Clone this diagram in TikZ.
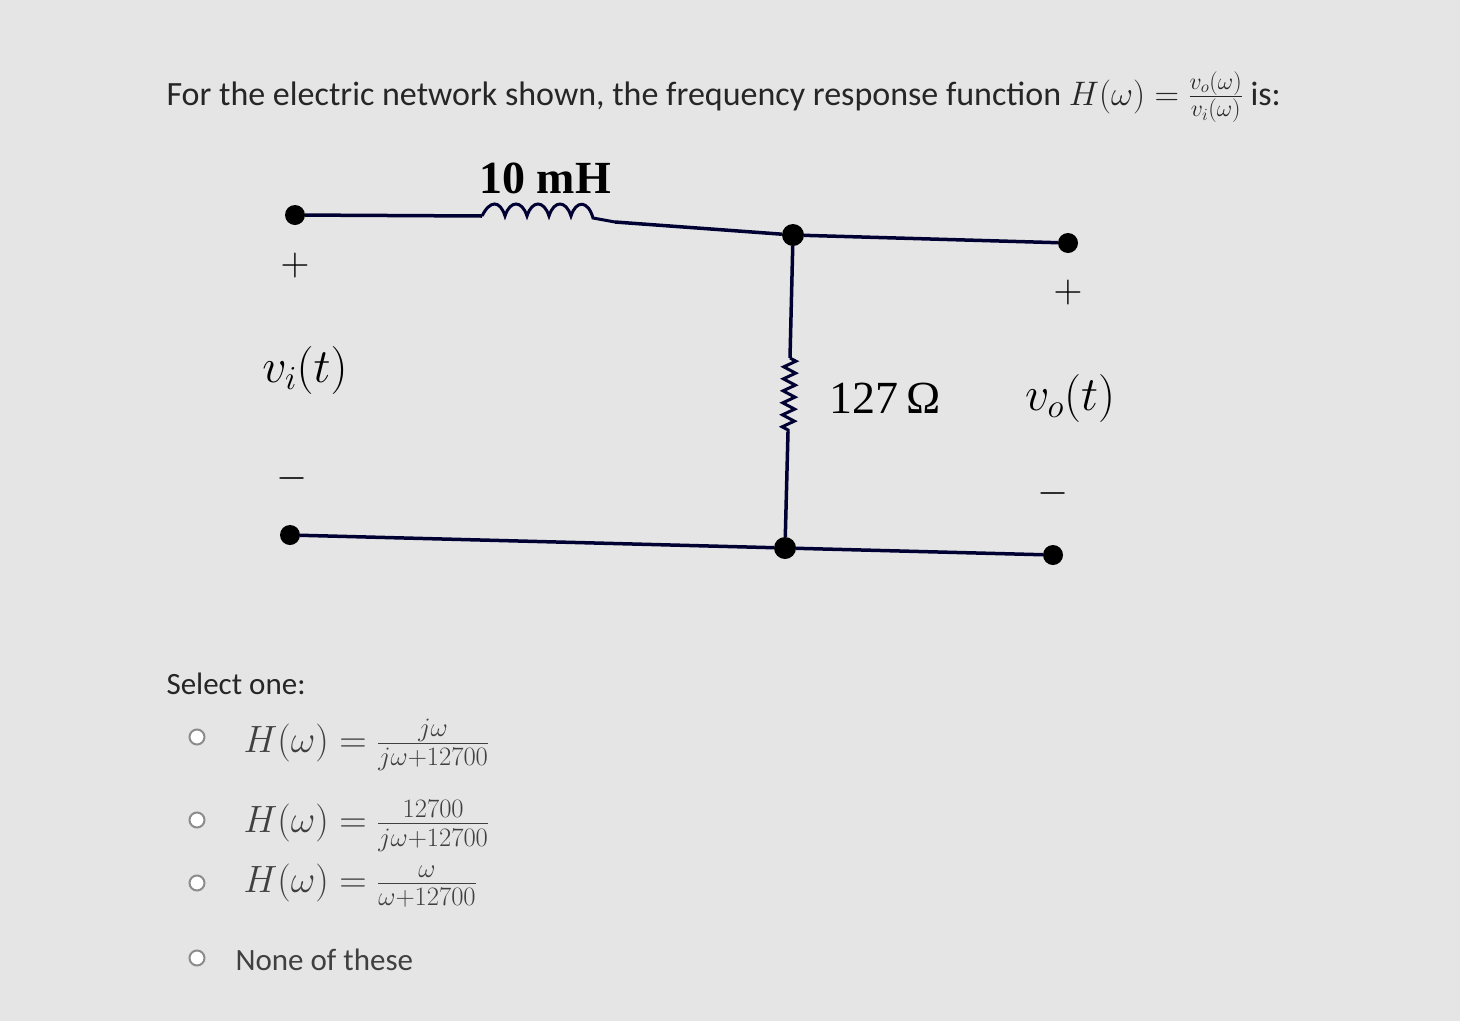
\RequirePackage{fix-cm}
\documentclass[tikz,border=0pt]{standalone}
\usepackage{amsmath}
\usepackage{fontspec}
\setmainfont{Carlito}
\newfontfamily\serifb{Liberation Serif}
\usetikzlibrary{decorations.pathmorphing}
\begin{document}
\begin{tikzpicture}[x=1pt,y=-1pt,
  wire/.style={draw=black!80!blue,line width=3.5pt},
  term/.style={circle,fill=black,inner sep=0pt,minimum size=20pt},
  jn/.style={circle,fill=black,inner sep=0pt,minimum size=22pt},
  lab/.style={font=\fontsize{40}{44}\selectfont},
  txt/.style={font=\fontsize{34}{38}\selectfont,anchor=west,text=black!85},
  opt/.style={circle,draw=black!45,line width=2pt,minimum size=15pt,inner sep=0pt,fill=white},
  ans/.style={anchor=west,text=black!75,font=\fontsize{38}{42}\selectfont}]
\fill[black!10] (0,0) rectangle (1460,1021);
\node[txt] (q) at (163,97) {For the electric network shown, the frequency response function $H(\omega)=\frac{v_o(\omega)}{v_i(\omega)}$ is:};
% circuit
\node[term] (a) at (295,215) {};
\coordinate (l1) at (482,216);
\coordinate (l2) at (615,222);
\node[jn] (n1) at (793,235) {};
\node[term] (b) at (1068,243) {};
\node[term] (c) at (290,535) {};
\node[jn] (n2) at (785,548) {};
\node[term] (d) at (1053,555) {};
\coordinate (r1) at (790,358);
\coordinate (r2) at (788,432);
\draw[wire] (a) -- (l1);
\draw[wire,line width=3pt] (l1) .. controls (490,200) and (500,200) .. (505,216)
 .. controls (510,200) and (522,200) .. (527,216)
 .. controls (532,200) and (544,200) .. (549,216)
 .. controls (554,200) and (566,200) .. (571,216)
 .. controls (576,200) and (588,200) .. (593,218) -- (l2);
\draw[wire] (l2) -- (n1) -- (b);
\draw[wire] (n1) -- (r1);
\draw[wire,line width=3pt,decorate,decoration={zigzag,segment length=12pt,amplitude=6pt}] (r1) -- (r2);
\draw[wire] (r2) -- (n2);
\draw[wire] (c) -- (n2) -- (d);
\node[font=\fontsize{46}{50}\selectfont\serifb\bfseries] (lL) at (545,178) {10 mH};
\node[font=\fontsize{46}{50}\selectfont\serifb] (lR) at (885,398) {127\,Ω};
\node[lab] (p1) at (295,265) {$+$};
\node[lab,font=\fontsize{48}{52}\selectfont] (vi) at (305,370) {$v_i(t)$};
\node[lab] (m1) at (292,478) {$-$};
\node[lab] (p2) at (1068,292) {$+$};
\node[lab,font=\fontsize{48}{52}\selectfont] (vo) at (1070,398) {$v_o(t)$};
\node[lab] (m2) at (1053,493) {$-$};
% options
\node[txt,font=\fontsize{31}{34}\selectfont] (sel) at (163,684) {Select one:};
\node[opt] (o1) at (197,737) {};
\node[opt] (o2) at (197,820) {};
\node[opt] (o3) at (197,883) {};
\node[opt] (o4) at (197,958) {};
\node[ans] (t1) at (240,745) {$H(\omega)=\frac{j\omega}{j\omega+12700}$};
\node[ans] (t2) at (240,826) {$H(\omega)=\frac{12700}{j\omega+12700}$};
\node[ans] (t3) at (240,886) {$H(\omega)=\frac{\omega}{\omega+12700}$};
\node[ans,font=\fontsize{31}{34}\selectfont] (t4) at (232,960) {None of these};
\end{tikzpicture}
\end{document}
